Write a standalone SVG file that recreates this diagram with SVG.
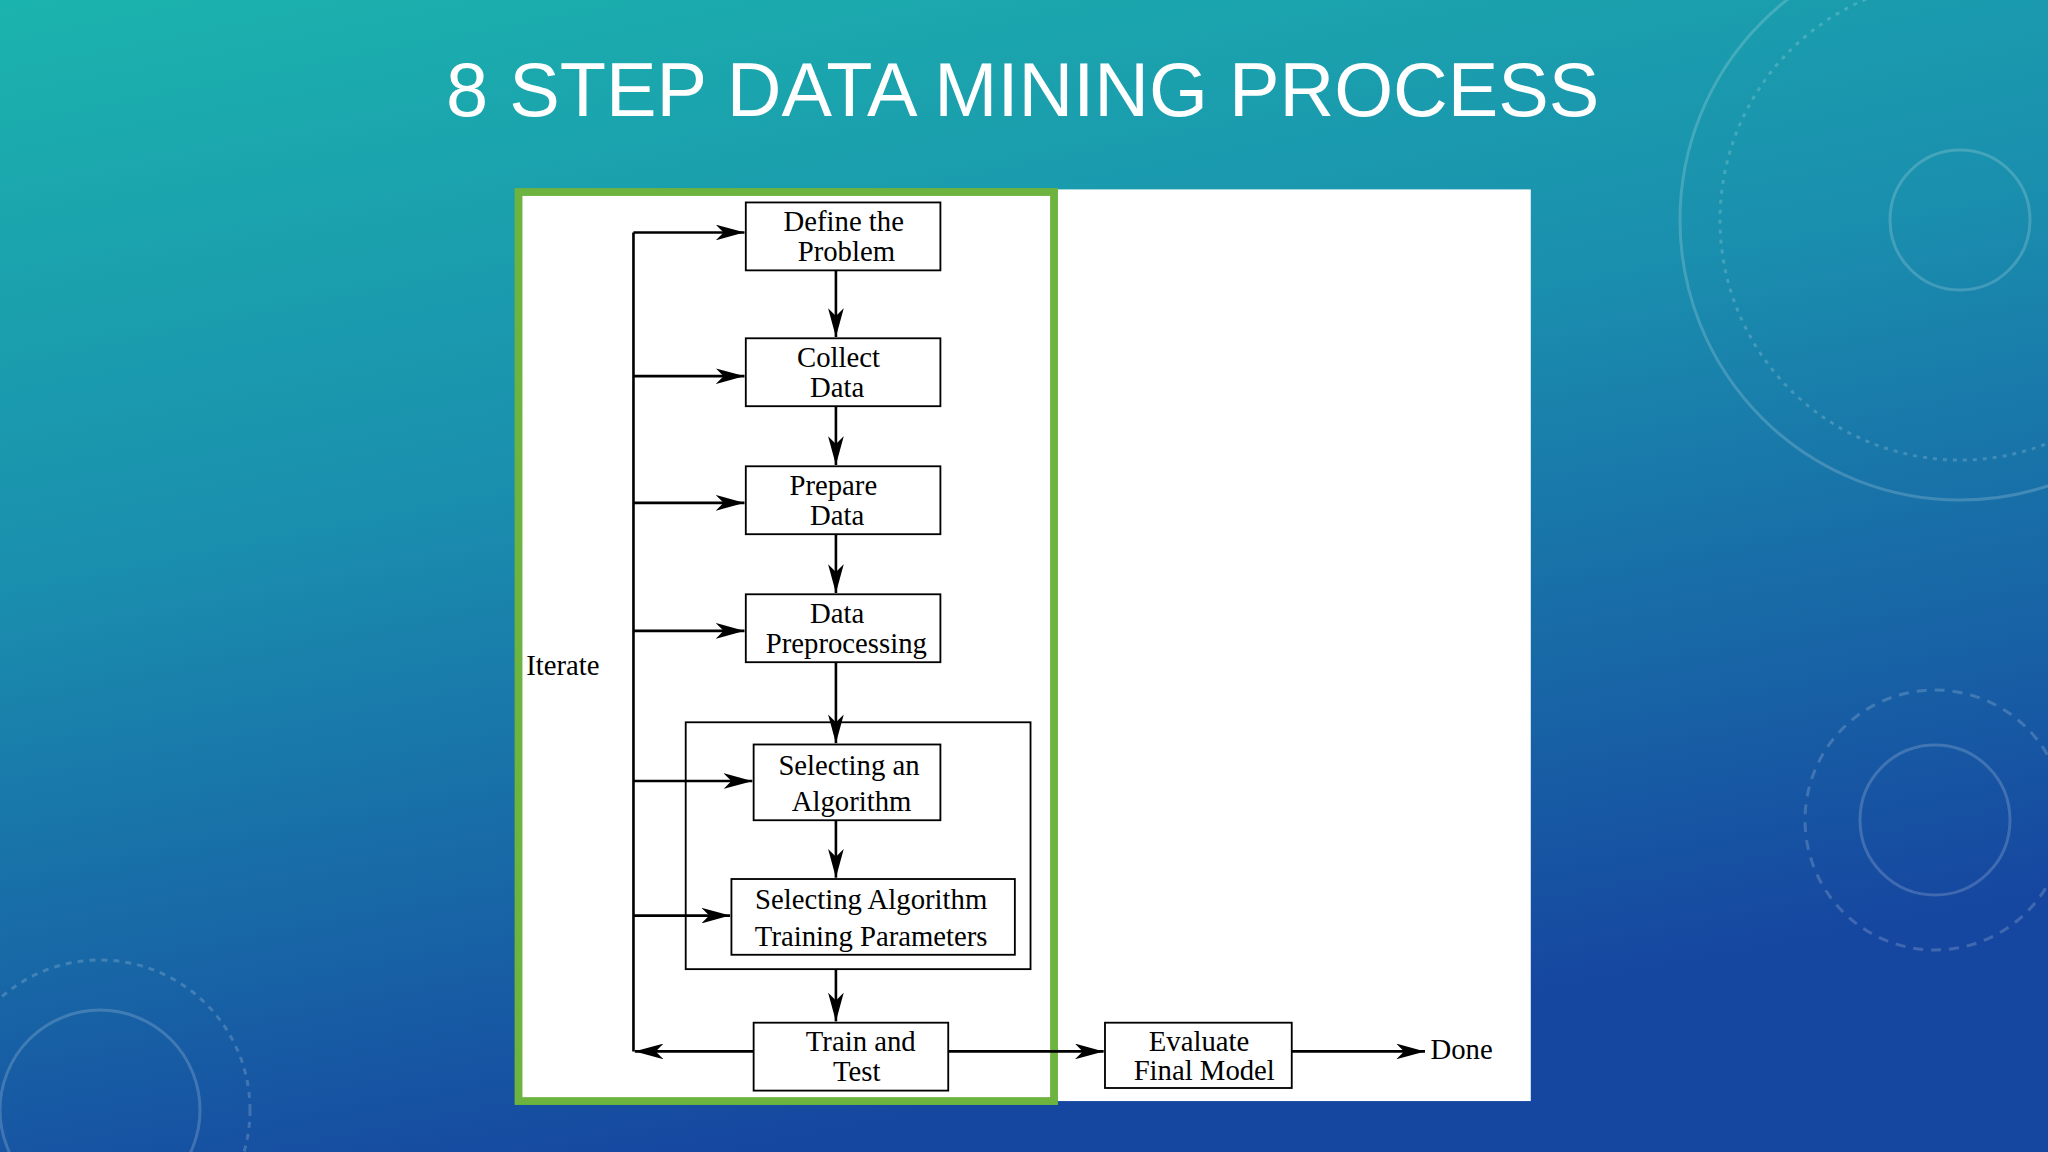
<svg xmlns="http://www.w3.org/2000/svg" width="2048" height="1152" viewBox="0 0 2048 1152">
<defs>
<linearGradient id="bg" x1="0" y1="0" x2="0.35" y2="1">
<stop offset="0" stop-color="#1bb3ad"/>
<stop offset="0.45" stop-color="#1a8fae"/>
<stop offset="1" stop-color="#1647a0"/>
</linearGradient>
<marker id="ah" viewBox="0 0 22 12" refX="22" refY="6" markerWidth="22" markerHeight="12" markerUnits="userSpaceOnUse" orient="auto">
<path d="M0,0 L22,6 L0,12 L6,6 Z" fill="#000"/>
</marker>
<style>
.box{fill:#fff;stroke:#000;stroke-width:1.4}
.t{font-family:"Liberation Serif",serif;font-size:22px;fill:#000;text-anchor:middle}
.ln{stroke:#000;stroke-width:2;fill:none}
.ar{stroke:#000;stroke-width:2;fill:none;marker-end:url(#ah)}
</style>
</defs>
<rect width="2048" height="1152" fill="url(#bg)"/>
<g fill="none" stroke="#ffffff" stroke-opacity="0.18" stroke-width="3">
<circle cx="1960" cy="220" r="70"/><circle cx="1960" cy="220" r="280"/><circle cx="1960" cy="220" r="240" stroke-dasharray="4 6"/>
<circle cx="1935" cy="820" r="75"/><circle cx="1935" cy="820" r="130" stroke-dasharray="10 8"/>
<circle cx="100" cy="1110" r="100"/><circle cx="100" cy="1110" r="150" stroke-dasharray="6 6"/>
</g>
<g transform="scale(1.30612)">
<text id="title" x="783" y="89" font-family="Liberation Sans, sans-serif" font-size="58" fill="#fff" text-anchor="middle">8 STEP DATA MINING PROCESS</text>
<rect x="395" y="145" width="777" height="698" fill="#fff"/>
<rect x="397" y="147" width="410" height="696" fill="none" stroke="#6db33f" stroke-width="6"/>
<g id="connectors">
<line class="ln" x1="485" y1="178" x2="485" y2="805"/>
<line class="ar" x1="485" y1="178" x2="570" y2="178"/>
<line class="ar" x1="485" y1="288" x2="570" y2="288"/>
<line class="ar" x1="485" y1="385" x2="570" y2="385"/>
<line class="ar" x1="485" y1="483" x2="570" y2="483"/>
<line class="ar" x1="485" y1="598" x2="576" y2="598"/>
<line class="ar" x1="485" y1="701" x2="559" y2="701"/>
<line class="ar" x1="577" y1="805" x2="486" y2="805"/>
<line class="ar" x1="640" y1="207" x2="640" y2="258"/>
<line class="ar" x1="640" y1="311" x2="640" y2="356"/>
<line class="ar" x1="640" y1="409" x2="640" y2="454"/>
<line class="ar" x1="640" y1="507" x2="640" y2="569"/>
<line class="ar" x1="640" y1="628" x2="640" y2="672"/>
<line class="ar" x1="640" y1="742" x2="640" y2="782"/>
<line class="ar" x1="726" y1="805" x2="845" y2="805"/>
<line class="ar" x1="989" y1="805" x2="1091" y2="805"/>
</g>
<rect x="525" y="553" width="264" height="189" fill="none" stroke="#000" stroke-width="1.4"/>
<g id="n1"><rect class="box" x="571" y="155" width="149" height="52"/><text class="t" x="646" y="177">Define the</text><text class="t" x="648" y="200">Problem</text></g>
<g id="n2"><rect class="box" x="571" y="259" width="149" height="52"/><text class="t" x="642" y="281">Collect</text><text class="t" x="641" y="304">Data</text></g>
<g id="n3"><rect class="box" x="571" y="357" width="149" height="52"/><text class="t" x="638" y="379">Prepare</text><text class="t" x="641" y="402">Data</text></g>
<g id="n4"><rect class="box" x="571" y="455" width="149" height="52"/><text class="t" x="641" y="477">Data</text><text class="t" x="648" y="500">Preprocessing</text></g>
<g id="n5"><rect class="box" x="577" y="570" width="143" height="58"/><text class="t" x="650" y="593">Selecting an</text><text class="t" x="652" y="621">Algorithm</text></g>
<g id="n6"><rect class="box" x="560" y="673" width="217" height="58"/><text class="t" x="667" y="696">Selecting Algorithm</text><text class="t" x="667" y="724">Training Parameters</text></g>
<g id="n7"><rect class="box" x="577" y="783" width="149" height="52"/><text class="t" x="659" y="805">Train and</text><text class="t" x="656" y="828">Test</text></g>
<g id="n8"><rect class="box" x="846" y="783" width="143" height="50"/><text class="t" x="918" y="805">Evaluate</text><text class="t" x="922" y="827" font-size="18">Final Model</text></g>
<text class="t" x="1119" y="811">Done</text>
<text class="t" x="431" y="517">Iterate</text>
</g>
</svg>
